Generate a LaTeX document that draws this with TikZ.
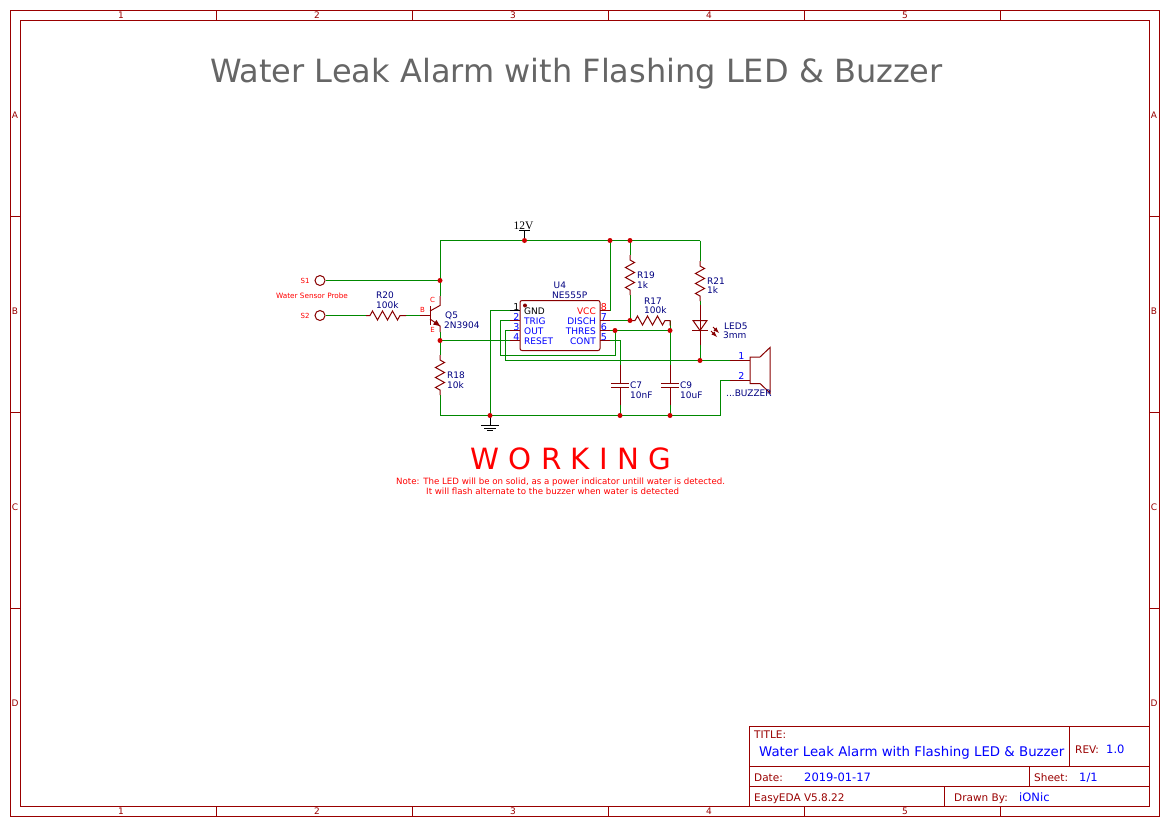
\documentclass[tikz,border=0pt]{standalone}
\usepackage{fontspec}
\setmainfont{DejaVu Sans}
\newfontfamily\railfont{Liberation Serif}
\definecolor{wirecol}{HTML}{008800}
\definecolor{partcol}{HTML}{880000}
\definecolor{framecol}{HTML}{990000}
\definecolor{dotcol}{HTML}{CC0000}
\definecolor{labelcol}{HTML}{000080}
\newcommand{\fsize}[1]{\fontsize{#1}{#1}\selectfont}
\newcommand{\zigh}{-- ++(2.5,-4.5) -- ++(5,9) -- ++(5,-9) -- ++(5,9) -- ++(5,-9) -- ++(5,9) -- ++(2.5,-4.5)}
\newcommand{\zigv}{-- ++(4.5,2.5) -- ++(-9,5) -- ++(9,5) -- ++(-9,5) -- ++(9,5) -- ++(-9,5) -- ++(4.5,2.5)}
\tikzset{
  wire/.style={wirecol,line width=1pt},
  part/.style={partcol,line width=1pt},
  frameline/.style={framecol,line width=1pt},
  blk/.style={black,line width=1pt},
  jdot/.style={fill=dotcol,draw=none},
  lab/.style={anchor=base west,inner sep=0,text=labelcol,font=\fsize{9}},
  pinname/.style={anchor=base,inner sep=0,text=blue,font=\fsize{9}},
  pinnum/.style={anchor=base,inner sep=0,text=blue,font=\fsize{9.5}},
  redlab/.style={anchor=base,inner sep=0,text=red,font=\fsize{7}},
  grid/.style={inner sep=0,text=framecol,font=\fsize{9}},
  tbtag/.style={anchor=base west,inner sep=0,text=framecol,font=\fsize{10.5}},
  tbval/.style={anchor=base west,inner sep=0,text=blue,font=\fsize{11.5}}
}
\begin{document}
\begin{tikzpicture}[x=1pt,y=-1pt]
\useasboundingbox (0,0) rectangle (1169,827);

% sheet frame
\draw[frameline] (10,10.5) rectangle (1159,816.5);
\draw[frameline] (20,20.5) rectangle (1149,806.5);
\foreach \tx in {216,412,608,804,1000} {
  \draw[frameline] (\tx,10.5) -- (\tx,20.5);
  \draw[frameline] (\tx,806.5) -- (\tx,816.5);
}
\foreach \ty in {216.5,412.5,608.5} {
  \draw[frameline] (10,\ty) -- (20,\ty);
  \draw[frameline] (1149,\ty) -- (1159,\ty);
}
\foreach \n/\gx in {1/121,2/317,3/513,4/709,5/905} {
  \node[grid] (top\n) at (\gx,15.5) {\n};
  \node[grid] (bot\n) at (\gx,811.5) {\n};
}
\foreach \n/\gy in {A/115,B/311,C/507,D/703} {
  \node[grid] (lft\n) at (15,\gy) {\n};
  \node[grid] (rgt\n) at (1154,\gy) {\n};
}

\node[anchor=base,inner sep=0,text=black!60,font=\fsize{32}] (maintitle) at (576.5,82.5) {Water Leak Alarm with Flashing LED \& Buzzer};

% title block
\draw[frameline] (749,726.5) rectangle (1149,806.5);
\draw[frameline] (749,766.5) -- (1149,766.5);
\draw[frameline] (749,786.5) -- (1149,786.5);
\draw[frameline] (1069,726.5) -- (1069,766.5);
\draw[frameline] (1029,766.5) -- (1029,786.5);
\draw[frameline] (944,786.5) -- (944,806.5);
\node[tbtag] (tbtitle) at (754,738) {TITLE:};
\node[tbval,font=\fsize{13.33}] (tbname) at (759,756.5) {Water Leak Alarm with Flashing LED \& Buzzer};
\node[tbtag] (tbrev) at (1075,753) {REV:};
\node[tbval] (tbrevval) at (1106,753) {1.0};
\node[tbtag] (tbdate) at (754,781) {Date:};
\node[tbval] (tbdateval) at (804,781) {2019-01-17};
\node[tbtag] (tbsheet) at (1034,781) {Sheet:};
\node[tbval] (tbsheetval) at (1079,781) {1/1};
\node[tbtag] (tbver) at (754,801) {EasyEDA V5.8.22};
\node[tbtag] (tbdrawn) at (954,801) {Drawn By:};
\node[tbval] (tbdrawnval) at (1019,801) {iONic};

% notes
\node[anchor=base,inner sep=0,text=red,font=\fsize{29.3}] (working) at (571,469.5) {W O R K I N G};
\node[inner sep=0,text=red,font=\fsize{8.65},anchor=base west] (noteone) at (396,484) {Note: The LED will be on solid, as a power indicator untill water is detected.};
\node[inner sep=0,text=red,font=\fsize{8.65},anchor=base west] (notetwo) at (426,494) {It will flash alternate to the buzzer when water is detected};

% net points
\coordinate (railq) at (440,240.5);
\coordinate (railv) at (524.5,240.5);
\coordinate (railu) at (610,240.5);
\coordinate (railr) at (630,240.5);
\coordinate (raill) at (700,240.5);
\coordinate (jsone) at (440,280.5);
\coordinate (jemit) at (440,340.5);
\coordinate (gndq) at (440,415.5);
\coordinate (gndg) at (490,415.5);
\coordinate (gndc) at (620,415.5);
\coordinate (gndk) at (670,415.5);
\coordinate (gndb) at (720,415.5);
\coordinate (qcol) at (440,296);
\coordinate (qemi) at (440,332);
\coordinate (qbas) at (420,315.5);
\coordinate (pinone) at (510,310.5);
\coordinate (pintwo) at (510,320.5);
\coordinate (pinthree) at (510,330.5);
\coordinate (pinfour) at (510,340.5);
\coordinate (pinfive) at (610,340.5);
\coordinate (pinsix) at (610,330.5);
\coordinate (pinseven) at (610,320.5);
\coordinate (pineight) at (610,310.5);
\coordinate (jsix) at (615,330.5);
\coordinate (jthres) at (670,330.5);
\coordinate (jdisch) at (630,320.5);
\coordinate (jled) at (700,360.5);
\coordinate (bzone) at (730,360.5);
\coordinate (bztwo) at (730,380.5);

% sensor probe
\node[draw=partcol,line width=1pt,circle,minimum size=10pt,inner sep=0] (Sone) at (320,280.5) {};
\node[draw=partcol,line width=1pt,circle,minimum size=10pt,inner sep=0] (Stwo) at (320,315.5) {};
\node[redlab] (Sonelab) at (305,283) {S1};
\node[redlab] (Stwolab) at (305,318) {S2};
\node[redlab,font=\fsize{7.3}] (probelab) at (312,298.5) {Water Sensor Probe};

% wires
\draw[wire] (raill) -- (railq) -- (qcol);
\draw[wire] (Sone) -- (jsone);
\draw[wire] (Stwo) -- (366,315.5);
\draw[wire] (406,315.5) -- (qbas);
\draw[wire] (qemi) -- (440,355);
\draw[wire] (jemit) -- (pinfour);
\draw[wire] (440,395) -- (gndq) -- (gndb) -- (720,380.5) -- (bztwo);
\draw[wire] (pinone) -- (490,310.5) -- (gndg);
\draw[wire] (pintwo) -- (500,320.5) -- (500,355.5) -- (615,355.5) -- (jsix);
\draw[wire] (pinthree) -- (505,330.5) -- (505,360.5) -- (bzone);
\draw[wire] (pineight) -- (railu);
\draw[wire] (pinseven) -- (jdisch) -- (630,295);
\draw[wire] (railr) -- (630,255);
\draw[wire] (raill) -- (700,261);
\draw[wire] (700,301) -- (700,305);
\draw[wire] (700,345) -- (jled);
\draw[wire] (pinsix) -- (jthres);
\draw[wire] (670,320.5) -- (670,365);
\draw[wire] (670,405) -- (gndk);
\draw[wire] (pinfive) -- (620,340.5) -- (620,365);
\draw[wire] (620,405) -- (gndc);

% resistors
\draw[part] (366,315.5) -- ++(4,0) \zigh -- ++(6,0);
\draw[part] (630,320.5) -- ++(5,0) \zigh -- ++(5,0) -- ++(0,5);
\draw[part] (440,355) -- ++(0,5) \zigv -- ++(0,5);
\draw[part] (630,255) -- ++(0,5) \zigv -- ++(0,5);
\draw[part] (700,261) -- ++(0,5) \zigv -- ++(0,5);

% transistor
\draw[part] (qbas) -- (430,315.5);
\draw[part] (430,306) -- (430,325);
\draw[part] (qcol) -- (440,305.5) -- (430,311);
\draw[part] (qemi) -- (440,326) -- (430,319);
\fill[partcol] (440,326) -- (433,324.5) -- (436.5,320) -- cycle;
\node[redlab] (qclab) at (432.5,302.5) {C};
\node[redlab] (qblab) at (422.5,312.5) {B};
\node[redlab] (qelab) at (432.5,332.5) {E};

% ne555
\node[draw=partcol,line width=1pt,rounded corners=2pt,minimum width=80pt,minimum height=50pt,inner sep=0] (Ufour) at (560,325.5) {};
\fill[partcol] (525,305.5) circle (2);
\draw[blk] (pinone) -- (520,310.5);
\foreach \p in {pintwo,pinthree,pinfour} {
  \draw[part] (\p) -- ++(10,0);
}
\draw[part] (pineight) -- (600,310.5);
\draw[part] (pinseven) -- (600,320.5);
\draw[part] (pinsix) -- (600,330.5);
\draw[part] (pinfive) -- (600,340.5);
\node[pinnum,text=black] (numone) at (516.5,310) {1};
\node[pinnum] (numtwo) at (516.5,320) {2};
\node[pinnum] (numthree) at (516.5,330) {3};
\node[pinnum] (numfour) at (516.5,340) {4};
\node[pinnum,text=red] (numeight) at (604,310) {8};
\node[pinnum] (numseven) at (604,320) {7};
\node[pinnum] (numsix) at (604,330) {6};
\node[pinnum] (numfive) at (604,340) {5};
\node[pinname,anchor=base west,text=black] (nameone) at (524,314.5) {GND};
\node[pinname,anchor=base west] (nametwo) at (524,324.5) {TRIG};
\node[pinname,anchor=base west] (namethree) at (524,334.5) {OUT};
\node[pinname,anchor=base west] (namefour) at (524,344.5) {RESET};
\node[pinname,anchor=base east,text=red] (nameeight) at (596,314.5) {VCC};
\node[pinname,anchor=base east] (nameseven) at (596,324.5) {DISCH};
\node[pinname,anchor=base east] (namesix) at (596,334.5) {THRES};
\node[pinname,anchor=base east] (namefive) at (596,344.5) {CONT};

% capacitors
\draw[part] (620,365) -- (620,383);
\draw[part] (620,387) -- (620,405);
\draw[part] (611,383) -- (629,383);
\draw[part] (611,387) -- (629,387);
\draw[part] (670,365) -- (670,383);
\draw[part] (670,387) -- (670,405);
\draw[part] (661,383) -- (679,383);
\draw[part] (661,387) -- (679,387);

% led
\draw[part] (700,305) -- (700,345);
\draw[part] (693,320.5) -- (707,320.5) -- (700,330.5) -- cycle;
\draw[part] (692,330.5) -- (708,330.5);
\draw[part,-latex] (713,327) -- (719,333);
\draw[part,-latex] (711,331) -- (717,337);

% buzzer
\draw[part] (bzone) -- (750,360.5);
\draw[part] (bztwo) -- (750,380.5);
\draw[part] (750,357) -- (760,357) -- (770,347.5) -- (770,393) -- (760,383.5) -- (750,383.5) -- cycle;
\node[pinnum] (bznumone) at (741.5,359.5) {1};
\node[pinnum] (bznumtwo) at (741.5,379.5) {2};

% power and ground
\draw[blk] (railv) -- (524.5,230.5);
\draw[blk] (519,230.5) -- (530,230.5);
\node[inner sep=0,anchor=base,font=\railfont\fsize{11.5}] (railname) at (523.5,229) {12V};
\draw[blk] (gndg) -- (490,425.5);
\draw[blk] (481,425.5) -- (499,425.5);
\draw[blk] (484,428) -- (496,428);
\draw[blk] (487,430.5) -- (493,430.5);

% junctions
\foreach \j in {railv,railu,railr,jsone,jemit,gndg,gndc,gndk,jsix,jthres,jdisch,jled} {
  \fill[jdot] (\j) circle (2.5);
}

% part labels
\node[lab] (Rtwenty) at (376,298.5) {R20};
\node[lab] (Rtwentyv) at (376,308) {100k};
\node[lab] (Qfive) at (445,318.5) {Q5};
\node[lab] (Qfivev) at (444,328) {2N3904};
\node[lab] (Reight) at (447,378.5) {R18};
\node[lab] (Reightv) at (447,388) {10k};
\node[lab] (Ufourn) at (553.5,288.5) {U4};
\node[lab] (Ufourv) at (552,298) {NE555P};
\node[lab] (Rnine) at (637,278.5) {R19};
\node[lab] (Rninev) at (637,288) {1k};
\node[lab] (Rseven) at (644,304.5) {R17};
\node[lab] (Rsevenv) at (644,313) {100k};
\node[lab] (Rtwone) at (707,284.5) {R21};
\node[lab] (Rtwonev) at (707,293) {1k};
\node[lab] (Ledfive) at (724,329.5) {LED5};
\node[lab] (Ledfivev) at (723,338.5) {3mm};
\node[lab] (Cseven) at (630,388.5) {C7};
\node[lab] (Csevenv) at (630,398) {10nF};
\node[lab] (Cnine) at (680,388.5) {C9};
\node[lab] (Cninev) at (680,398) {10uF};
\node[lab] (Bzname) at (726,396.5) {...BUZZER};
\end{tikzpicture}
\end{document}
